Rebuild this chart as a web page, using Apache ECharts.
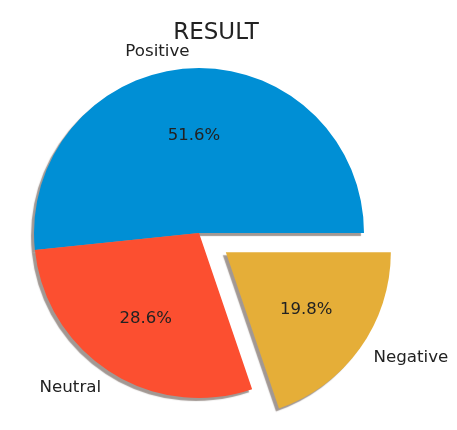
<!DOCTYPE html>
<html>
<head>
<meta charset="utf-8">
<script src="https://cdn.jsdelivr.net/npm/echarts@6/dist/echarts.min.js"></script>
<style>html,body{margin:0;padding:0;background:#fff;}#chart{width:457px;height:430px;}</style>
</head>
<body>
<div id="chart"></div>
<script>
const categories = ['Positive', 'Neutral', 'Negative'];
const counts = [47, 26, 18];
const exploded = [false, false, true];

const colors = ['#008fd5', '#fc4f30', '#e5ae38'];
const labelNudge = [0, 2, 3];
const total = counts.reduce((a, b) => a + b, 0);
const CX = 199, CY = 233, R = 165;
const font = 'DejaVu Sans';

const baseData = categories.map((c, i) => ({
  name: c, value: counts[i], selected: exploded[i],
  itemStyle: { color: colors[i] },
  label: { offset: [0, labelNudge[i]] }
}));
const pctData = categories.map((c, i) => ({
  name: c, value: counts[i], selected: exploded[i]
}));

const chart = echarts.init(document.getElementById('chart'), null, { renderer: 'canvas' });
chart.setOption({
  animation: false,
  backgroundColor: '#ffffff',
  title: {
    text: 'RESULT', left: 211, top: 17, textAlign: 'center',
    textStyle: { fontFamily: font, fontSize: 23, fontWeight: 'normal', color: '#222' }
  },
  series: [
    {
      type: 'pie', center: [CX, CY], radius: [0, R],
      startAngle: 0, clockwise: false,
      selectedMode: 'multiple', selectedOffset: 0.2 * R,
      avoidLabelOverlap: false,
      silent: true,
      itemStyle: {
        borderWidth: 0,
        shadowColor: 'rgba(70,50,40,0.5)', shadowBlur: 1,
        shadowOffsetX: -3, shadowOffsetY: 3
      },
      label: {
        show: true, position: 'outside', formatter: '{b}',
        fontFamily: font, fontSize: 16.7, color: '#222',
        distanceToLabelLine: 0
      },
      labelLine: { show: false, length: 0.1 * R, length2: 0 },
      emphasis: { disabled: true },
      data: baseData
    },
    {
      type: 'pie', center: [CX, CY], radius: [0.2 * R - 6, R],
      startAngle: 0, clockwise: false,
      selectedMode: 'multiple', selectedOffset: 0.2 * R,
      avoidLabelOverlap: false,
      silent: true,
      itemStyle: { color: 'rgba(0,0,0,0)', borderWidth: 0 },
      label: {
        show: true, position: 'inside',
        formatter: p => (p.value / total * 100).toFixed(1) + '%',
        fontFamily: font, fontSize: 16.5, color: '#222',
        offset: [0, 2]
      },
      labelLine: { show: false },
      emphasis: { disabled: true },
      data: pctData
    }
  ]
});
</script>
</body>
</html>
